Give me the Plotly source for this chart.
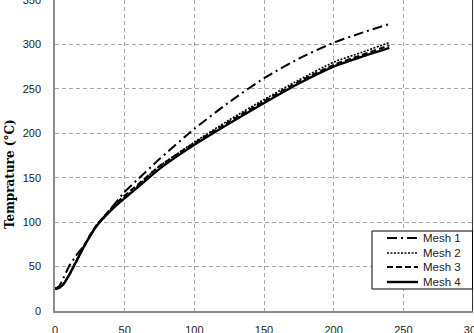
import plotly.graph_objects as go

time_s = [0, 3, 6, 10, 15, 20, 25, 30, 40, 50, 60, 75, 100, 125, 150, 175, 200, 220, 240]
mesh1 = [25, 28, 37, 50, 62, 72, 84, 96, 115, 134, 149, 171, 205, 235, 262, 284, 302, 313, 323]
mesh2 = [25, 26, 30, 41, 56, 71, 85, 97, 114, 128, 142, 163, 190, 215, 238, 260, 280, 291, 302]
mesh3 = [25, 26, 30, 40, 55, 70, 85, 97, 115, 130, 143, 163, 189, 213, 236, 258, 277, 288, 299]
mesh4 = [25, 26, 30, 40, 55, 70, 84, 96, 113, 127, 140, 160, 187, 211, 234, 256, 275, 286, 296]
names = ["Mesh 1", "Mesh 2", "Mesh 3", "Mesh 4"]
x_ticks = [0, 50, 100, 150, 200, 250, 300]
y_ticks = [0, 50, 100, 150, 200, 250, 300, 350]

styles = [
    dict(dash="10px,4px,2px,4px", width=2),
    dict(dash="2px,1.5px", width=1.6),
    dict(dash="6px,3px", width=2),
    dict(dash="solid", width=2.4),
]

fig = go.Figure()
for name, ys, st in zip(names, [mesh1, mesh2, mesh3, mesh4], styles):
    fig.add_trace(go.Scatter(x=time_s, y=ys, mode="lines", name=name, showlegend=False,
                             line=dict(color="black", shape="spline", smoothing=0.6, **st)))

grid = dict(showgrid=True, gridcolor="#a6a6a6", gridwidth=1, griddash="4px,3px",
            zeroline=False, showline=True, linecolor="#8c8c8c", linewidth=1.5,
            ticks="", ticklabeloverflow="allow", automargin=False,
            tickfont=dict(family="Liberation Sans", size=11, color="#222"))

# custom legend box (layout only), in paper coordinates of the plot area
W, H = 418.0, 311.0
def px(xp):
    return (xp - 55) / W
def py(yp):
    return (311 - yp) / H

shapes = [dict(type="line", xref="x", yref="y", x0=300, x1=300, y0=0, y1=350,
               line=dict(color="#333", width=2)),
          dict(type="rect", xref="paper", yref="paper", x0=px(372), x1=px(472.5),
               y0=py(289), y1=py(231), fillcolor="white", line=dict(color="black", width=1))]
annotations = [dict(text="<b>Temprature (°C)</b>", xref="paper", yref="paper",
                    x=-0.108, y=0.44, xanchor="center", yanchor="middle",
                    textangle=-90, showarrow=False,
                    font=dict(family="DejaVu Serif", size=12, color="black"))]
row_y = [238, 253, 267, 282]
for name, st, ry in zip(names, styles, row_y):
    shapes.append(dict(type="line", xref="paper", yref="paper", x0=px(387), x1=px(418),
                       y0=py(ry), y1=py(ry),
                       line=dict(color="black", width=st["width"], dash=st["dash"])))
    annotations.append(dict(text=name, xref="paper", yref="paper", x=px(421), y=py(ry),
                            xanchor="left", yanchor="middle", showarrow=False,
                            font=dict(family="Liberation Sans", size=11.5, color="#222")))

fig.update_layout(
    width=474, height=333,
    margin=dict(l=55, r=1, t=0, b=22),
    paper_bgcolor="white", plot_bgcolor="white",
    xaxis=dict(range=[0, 300], tickvals=x_ticks, ticklabelstandoff=8, **grid),
    yaxis=dict(range=[0, 350], tickvals=y_ticks, ticklabelstandoff=10, **grid),
    showlegend=False,
    annotations=annotations,
    shapes=shapes,
)

fig.write_html("out.html")
